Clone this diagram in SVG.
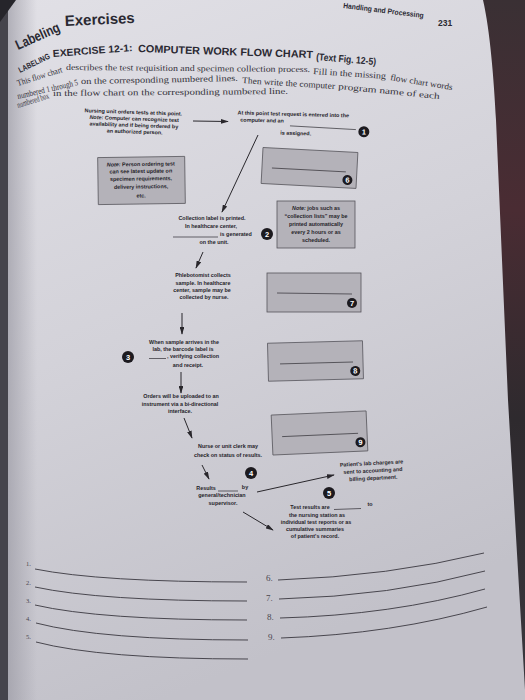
<svg xmlns="http://www.w3.org/2000/svg" width="525" height="700" viewBox="0 0 525 700">
<defs>
  <linearGradient id="pageV" x1="0" y1="0" x2="0.3" y2="1">
    <stop offset="0" stop-color="#e1e0e6"/>
    <stop offset="0.5" stop-color="#d3d2d9"/>
    <stop offset="1" stop-color="#c2c1c9"/>
  </linearGradient>
  <linearGradient id="leftShade" x1="0" y1="0" x2="1" y2="0">
    <stop offset="0" stop-color="#9a99a3" stop-opacity="0.7"/>
    <stop offset="1" stop-color="#9a99a3" stop-opacity="0"/>
  </linearGradient>
  <linearGradient id="bgR" x1="0" y1="0" x2="0" y2="1">
    <stop offset="0" stop-color="#3a3034"/>
    <stop offset="0.3" stop-color="#4a2c33"/>
    <stop offset="0.6" stop-color="#2e2a2e"/>
    <stop offset="1" stop-color="#3a383e"/>
  </linearGradient>
  <marker id="ah" viewBox="0 0 10 6" markerWidth="8" markerHeight="4.8" refX="9" refY="3" orient="auto">
    <path d="M0,0 L10,3 L0,6 Z" fill="#29272c"/>
  </marker>
  <style>
    .hd { font-family: "Liberation Sans", Arial, sans-serif; fill: #2a2932; font-weight: bold; }
    .body { font-family: "Liberation Serif", "Times New Roman", serif; font-size: 8.7px; fill: #34323a; }
    .t { font-family: "Liberation Sans", Arial, sans-serif; font-size: 5.4px; font-weight: bold; fill: #26242a; text-anchor: middle; }
    .box { fill: #b4b2b9; stroke: #56545b; stroke-width: 0.8; }
    .ul { stroke: #2f2d33; stroke-width: 0.7; fill: none; }
    .nc { fill: #1c1a1f; }
    .nt { font-family: "Liberation Sans", Arial, sans-serif; font-size: 7.5px; font-weight: bold; fill: #ffffff; text-anchor: middle; }
    .cn { stroke: #29272c; stroke-width: 1; fill: none; marker-end: url(#ah); }
    .al { stroke: #3a383f; stroke-width: 0.9; fill: none; }
    .an { font-family: "Liberation Serif", "Times New Roman", serif; fill: #4a4850; }
  </style>
</defs>

<!-- background / page -->
<rect x="0" y="0" width="525" height="700" fill="url(#bgR)"/>
<path d="M7,0 L483,0 C490,30 494,80 496,120 L508,400 L525,690 L525,700 L7,700 Z" fill="url(#pageV)"/>
<rect x="7" y="0" width="30" height="700" fill="url(#leftShade)"/>
<path d="M0,0 L8,0 L8,700 L0,700 Z" fill="#45444c"/>
<path d="M0,0 L16,0 L0,22 Z" fill="#26252b"/>

<!-- header -->
<g id="header">
  <text class="hd" font-size="7.5" transform="rotate(7.1 343 8)" x="343" y="8" textLength="81" lengthAdjust="spacingAndGlyphs">Handling and Processing</text>
  <text class="hd" font-size="8.5" x="438" y="26">231</text>

  <text class="hd" font-size="14" transform="rotate(-24 18 50)" x="18" y="50" textLength="47" lengthAdjust="spacingAndGlyphs">Labeling</text>
  <text class="hd" font-size="15" transform="rotate(-2.5 65 26)" x="65" y="26" textLength="70" lengthAdjust="spacingAndGlyphs">Exercises</text>

  <text class="hd" font-size="8" transform="rotate(-26 20 73)" x="20" y="73" textLength="34" lengthAdjust="spacingAndGlyphs">LABELING</text>
  <text class="hd" font-size="10" transform="rotate(-4.3 53 57)" x="53" y="57" textLength="80" lengthAdjust="spacingAndGlyphs">EXERCISE 12-1:</text>
  <text class="hd" font-size="10.5" transform="rotate(2 138 52)" x="138" y="52" textLength="175" lengthAdjust="spacingAndGlyphs">COMPUTER WORK FLOW CHART</text>
  <text class="hd" font-size="10" font-weight="normal" transform="rotate(4.8 316 60)" x="316" y="60" textLength="60" lengthAdjust="spacingAndGlyphs">(Text Fig. 12-5)</text>

  <text class="body" font-size="7.5" transform="rotate(-17.3 18 86)" x="18" y="86" textLength="47" lengthAdjust="spacingAndGlyphs">This flow chart</text>
  <text class="body" transform="rotate(0.5 66 70)" x="66" y="70" textLength="244" lengthAdjust="spacingAndGlyphs">describes the test requisition and specimen collection process.</text>
  <text class="body" font-size="9.6" transform="rotate(3.9 313 74)" x="313" y="74" textLength="73" lengthAdjust="spacingAndGlyphs">Fill in the missing</text>
  <text class="body" font-size="9.4" transform="rotate(9.2 390 80)" x="390" y="80" textLength="63" lengthAdjust="spacingAndGlyphs">flow chart words</text>

  <text class="body" font-size="7" transform="rotate(-13 18 99)" x="18" y="99" textLength="62" lengthAdjust="spacingAndGlyphs">numbered 1 through 5</text>
  <text class="body" transform="rotate(-1.1 81 84)" x="81" y="84" textLength="157" lengthAdjust="spacingAndGlyphs">on the corresponding numbered lines.</text>
  <text class="body" font-size="9.4" transform="rotate(3.7 242 83)" x="242" y="83" textLength="93" lengthAdjust="spacingAndGlyphs">Then write the computer</text>
  <text class="body" font-size="10.2" transform="rotate(5.6 338 89)" x="338" y="89" textLength="102" lengthAdjust="spacingAndGlyphs">program name of each</text>

  <text class="body" font-size="6.5" transform="rotate(-17.4 18 108)" x="18" y="108" textLength="33" lengthAdjust="spacingAndGlyphs">numbered box</text>
  <text class="body" transform="rotate(-0.5 53 96)" x="53" y="96" textLength="235" lengthAdjust="spacingAndGlyphs">in the flow chart on the corresponding numbered line.</text>
</g>

<!-- connectors -->
<g id="connectors">
  <line class="cn" x1="193" y1="121" x2="228" y2="121.5"/>
  <line class="cn" x1="258" y1="135" x2="222" y2="212"/>
  <line class="cn" x1="203" y1="252" x2="196" y2="268"/>
  <line class="cn" x1="182" y1="313" x2="182" y2="334"/>
  <line class="cn" x1="181" y1="372" x2="181" y2="393"/>
  <line class="cn" x1="184" y1="418" x2="192" y2="438"/>
  <line class="cn" x1="202" y1="465" x2="209" y2="479"/>
  <line class="cn" x1="257" y1="492" x2="334" y2="475"/>
  <line class="cn" x1="243" y1="512" x2="273" y2="530"/>
</g>

<!-- nodes -->
<g id="n-nursing" transform="rotate(2 134 123)">
  <text class="t" x="133" y="114">Nursing unit orders tests at this point.</text>
  <text class="t" x="134" y="120.5"><tspan font-style="italic">Note:</tspan> Computer can recognize test</text>
  <text class="t" x="134" y="127">availability and if being ordered by</text>
  <text class="t" x="135" y="133.5">an authorized person.</text>
</g>

<g id="n-entered" transform="rotate(1.5 295 125)">
  <text class="t" x="293" y="116">At this point test request is entered into the</text>
  <text class="t" x="262" y="123">computer and an</text>
  <line class="ul" x1="290" y1="126" x2="356" y2="128"/>
  <text class="t" x="296" y="135">is assigned.</text>
  <circle class="nc" cx="364" cy="130" r="5.5"/>
  <text class="nt" x="364" y="132.7">1</text>
</g>

<g id="n-box6" transform="rotate(3 310 168)">
  <rect class="box" x="262" y="150" width="95" height="36"/>
  <line class="ul" x1="272" y1="170" x2="346" y2="170"/>
  <circle class="nc" cx="348" cy="178" r="5"/>
  <text class="nt" x="348" y="180.6">6</text>
</g>

<g id="n-note-person" transform="rotate(-0.8 141 181)">
  <rect class="box" x="98" y="157" width="87" height="47"/>
  <text class="t" x="141" y="166"><tspan font-style="italic">Note:</tspan> Person ordering test</text>
  <text class="t" x="141" y="173">can see latest update on</text>
  <text class="t" x="141" y="180.5">specimen requirements,</text>
  <text class="t" x="141" y="188.5">delivery instructions,</text>
  <text class="t" x="141" y="197.5">etc.</text>
</g>

<g id="n-note-jobs">
  <rect class="box" x="277" y="201" width="78" height="47"/>
  <text class="t" x="316" y="210"><tspan font-style="italic">Note:</tspan> jobs such as</text>
  <text class="t" x="316" y="218">“collection lists” may be</text>
  <text class="t" x="316" y="226">printed automatically</text>
  <text class="t" x="316" y="233.5">every 2 hours or as</text>
  <text class="t" x="316" y="241.5">scheduled.</text>
</g>

<g id="n-label">
  <text class="t" x="212" y="220">Collection label is printed.</text>
  <text class="t" x="211" y="227.5">In healthcare center,</text>
  <line class="ul" x1="173" y1="237" x2="218" y2="237"/>
  <text class="t" x="236" y="236">is generated</text>
  <text class="t" x="214" y="244">on the unit.</text>
  <circle class="nc" cx="267" cy="234" r="6"/>
  <text class="nt" x="267" y="236.7">2</text>
</g>

<g id="n-phleb">
  <text class="t" x="203" y="277">Phlebotomist collects</text>
  <text class="t" x="203" y="284.5">sample. In healthcare</text>
  <text class="t" x="202" y="291.5">center, sample may be</text>
  <text class="t" x="204" y="298.5">collected by nurse.</text>
</g>

<g id="n-arrives">
  <text class="t" x="184" y="344">When sample arrives in the</text>
  <text class="t" x="183" y="351">lab, the barcode label is</text>
  <line class="ul" x1="149" y1="358.5" x2="166" y2="358.5"/>
  <text class="t" x="193" y="358">, verifying collection</text>
  <text class="t" x="188" y="366.5">and receipt.</text>
  <circle class="nc" cx="128" cy="357" r="6"/>
  <text class="nt" x="128" y="359.7">3</text>
</g>

<g id="n-box7">
  <rect class="box" x="267" y="273" width="94" height="39"/>
  <line class="ul" x1="277" y1="293" x2="352" y2="294"/>
  <circle class="nc" cx="352" cy="303" r="5"/>
  <text class="nt" x="352" y="305.6">7</text>
</g>

<g id="n-box8" transform="rotate(-1.5 315 362)">
  <rect class="box" x="268" y="342" width="95" height="38"/>
  <line class="ul" x1="280" y1="363" x2="353" y2="363"/>
  <circle class="nc" cx="355" cy="372" r="5"/>
  <text class="nt" x="355" y="374.6">8</text>
</g>

<g id="n-box9" transform="rotate(-2.5 319 433)">
  <rect class="box" x="272" y="413" width="95" height="40"/>
  <line class="ul" x1="282" y1="435" x2="358" y2="435"/>
  <circle class="nc" cx="360" cy="444" r="5"/>
  <text class="nt" x="360" y="446.6">9</text>
</g>

<g id="n-upload">
  <text class="t" x="181" y="398">Orders will be uploaded to an</text>
  <text class="t" x="180" y="405.5">instrument via a bi-directional</text>
  <text class="t" x="180" y="413">interface.</text>
</g>

<g id="n-nurse">
  <text class="t" x="228" y="448">Nurse or unit clerk may</text>
  <text class="t" x="228" y="456.5">check on status of results.</text>
</g>

<g id="n-results">
  <text class="t" x="206" y="490">Results</text>
  <line class="ul" x1="218" y1="491" x2="238" y2="491"/>
  <text class="t" x="245" y="489">by</text>
  <text class="t" x="222" y="497">general/technician</text>
  <text class="t" x="223" y="504.5">supervisor.</text>
  <circle class="nc" cx="251" cy="473" r="6"/>
  <text class="nt" x="251" y="475.7">4</text>
</g>

<g id="n-charges" transform="rotate(-3 372 472)">
  <text class="t" x="372" y="465">Patient's lab charges are</text>
  <text class="t" x="373" y="472.5">sent to accounting and</text>
  <text class="t" x="373" y="480">billing department.</text>
</g>

<g id="n-testres">
  <circle class="nc" cx="329" cy="493" r="6"/>
  <text class="nt" x="329" y="495.7">5</text>
  <text class="t" x="310" y="509">Test results are</text>
  <line class="ul" x1="334" y1="509.5" x2="361" y2="508.5"/>
  <text class="t" x="370" y="506">to</text>
  <text class="t" x="317" y="516.5">the nursing station as</text>
  <text class="t" x="316" y="523.5">individual test reports or as</text>
  <text class="t" x="315" y="530.5">cumulative summaries</text>
  <text class="t" x="315" y="537.5">of patient's record.</text>
</g>

<!-- answer lines -->
<g id="answers">
  <text class="an" font-size="6.5" x="26" y="566">1.</text>
  <text class="an" font-size="6.5" x="26" y="585">2.</text>
  <text class="an" font-size="6.5" x="26" y="603">3.</text>
  <text class="an" font-size="6.5" x="26" y="621">4.</text>
  <text class="an" font-size="6.5" x="26" y="639">5.</text>
  <path class="al" d="M35,569 Q100,582 247,582"/>
  <path class="al" d="M35,587 Q100,601 247,601"/>
  <path class="al" d="M35,605 Q100,620 247,620"/>
  <path class="al" d="M36,623 Q101,640 248,640"/>
  <path class="al" d="M36,642 Q101,659 248,659"/>
  <text class="an" font-size="9" x="266" y="581">6.</text>
  <text class="an" font-size="9" x="266" y="601">7.</text>
  <text class="an" font-size="9" x="267" y="620">8.</text>
  <text class="an" font-size="9" x="268" y="640">9.</text>
  <path class="al" d="M278,580 Q390,576 484,553"/>
  <path class="al" d="M279,599 Q391,596 485,571"/>
  <path class="al" d="M280,618 Q392,615 485,589"/>
  <path class="al" d="M281,638 Q393,634 487,607"/>
</g>
</svg>
